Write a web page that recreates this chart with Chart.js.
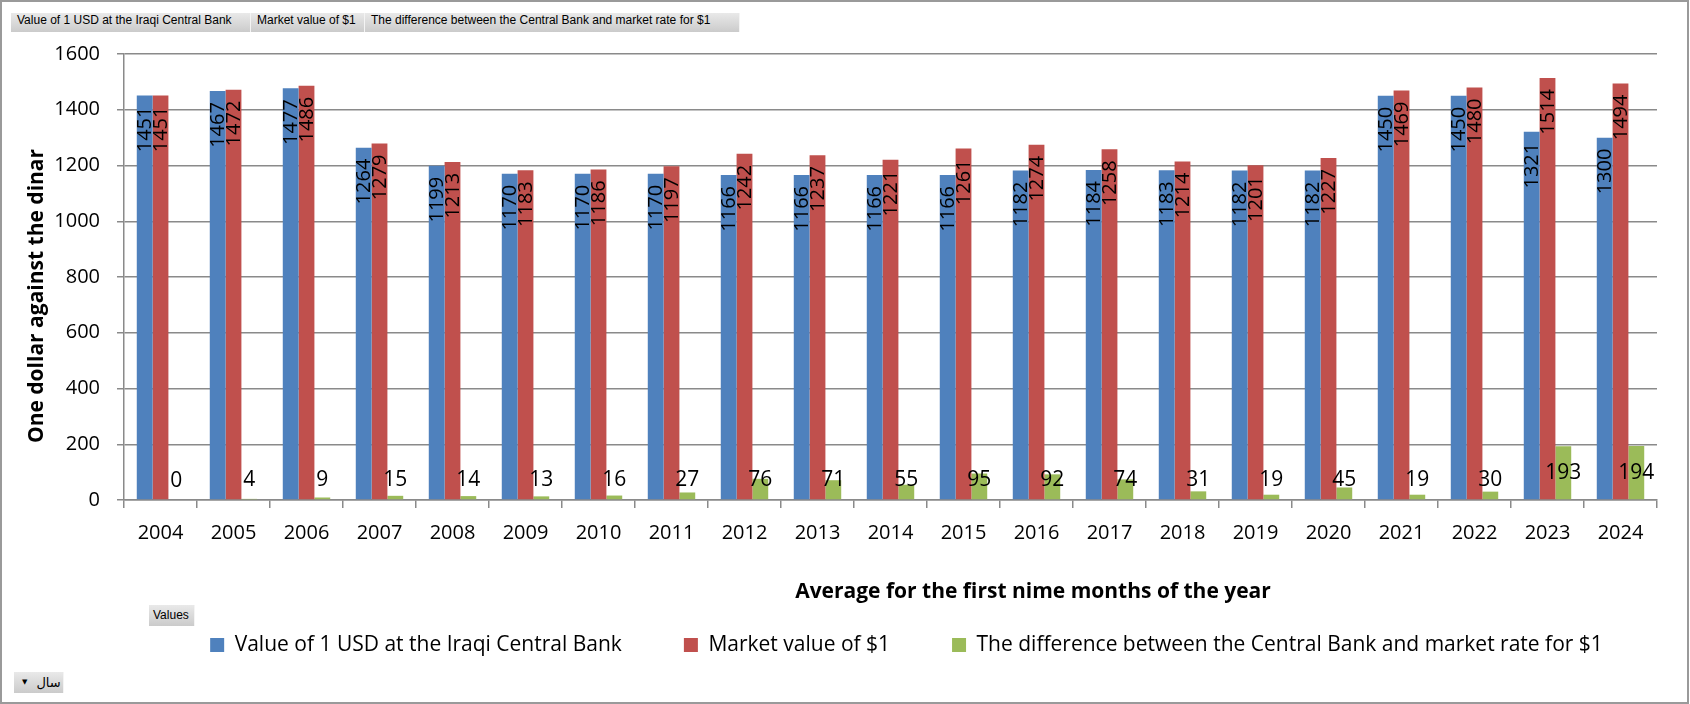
<!DOCTYPE html>
<html>
<head>
<meta charset="utf-8">
<title>One dollar against the dinar</title>
<script src="https://cdn.jsdelivr.net/npm/chart.js@4.4.1/dist/chart.umd.min.js"></script>
<style>
    html, body { margin: 0; padding: 0; background: #fff; }
    #wrap { position: relative; width: 1690px; height: 704px; overflow: hidden; }
    #frame { position: absolute; left: 0; top: 0; width: 1689px; height: 704px; box-sizing: border-box; border: 2px solid #9a9a9a; pointer-events: none; }
    #chart { position: absolute; left: 0; top: 0; }
    .btn {
        position: absolute; box-sizing: border-box; height: 19px; line-height: 19px;
        background: linear-gradient(#e9e9e9, #cbcbcb);
        font: 12px "Liberation Sans", Arial, sans-serif; color: #000;
        padding-left: 6px; white-space: nowrap;
        border-right: 1px solid #f4f4f4;
    }
    #values { left: 149px; top: 605px; width: 46px; height: 21px; line-height: 21px; padding-left: 4px; }
    #year { left: 14px; top: 672px; width: 50px; height: 21px; line-height: 21px; padding-left: 8px; display: flex; align-items: center; gap: 9px; font-family: "DejaVu Sans", sans-serif; font-size: 13px; }
    #year .arrow { font-size: 7px; }
</style>
</head>
<body>
<div id="wrap">
    <canvas id="chart" width="1690" height="704"></canvas>
    <div class="btn" style="left:11px; top:13px; width:240px;">Value of 1 USD at the Iraqi Central Bank</div>
    <div class="btn" style="left:251px; top:13px; width:114px;">Market value of $1</div>
    <div class="btn" style="left:365px; top:13px; width:375px;">The difference between the Central Bank and market rate for $1</div>
    <div class="btn" id="values">Values</div>
    <div class="btn" id="year"><span class="arrow">&#9660;</span><span>سال</span></div>
    <div id="frame"></div>
</div>
<script>
// Data
const years = ['2004', '2005', '2006', '2007', '2008', '2009', '2010', '2011', '2012', '2013', '2014',
    '2015', '2016', '2017', '2018', '2019', '2020', '2021', '2022', '2023', '2024'];
const seriesNames = [
    'Value of 1 USD at the Iraqi Central Bank',
    'Market value of $1',
    'The difference between the Central Bank and market rate for $1'
];
const centralBank = [1451, 1467, 1477, 1264, 1199, 1170, 1170, 1170, 1166, 1166, 1166,
    1166, 1182, 1184, 1183, 1182, 1182, 1450, 1450, 1321, 1300];
const marketRate = [1451, 1472, 1486, 1279, 1213, 1183, 1186, 1197, 1242, 1237, 1221,
    1261, 1274, 1258, 1214, 1201, 1227, 1469, 1480, 1514, 1494];
const difference = [0, 4, 9, 15, 14, 13, 16, 27, 76, 71, 55,
    95, 92, 74, 31, 19, 45, 19, 30, 193, 194];
const yTicks = { min: 0, max: 1600, step: 200 };
const xTitle = 'Average for the first nime months of the year';
const yTitle = 'One dollar against the dinar';

Chart.defaults.font.family = '"Open Sans", "Noto Sans", sans-serif';
Chart.defaults.color = '#000';

// Etiquetas dos valores (verticais nas duas primeiras séries)
const dataLabels = {
    id: 'dataLabels',
    afterDatasetsDraw(chart) {
        const ctx = chart.ctx;
        ctx.save();
        ctx.fillStyle = '#000';
        ctx.textBaseline = 'middle';
        chart.data.datasets.forEach((ds, di) => {
            const meta = chart.getDatasetMeta(di);
            meta.data.forEach((bar, i) => {
                const v = ds.data[i];
                if (di < 2) {
                    ctx.font = '20px "Open Sans"';
                    ctx.save();
                    ctx.translate(bar.x + 1, bar.y + 11);
                    ctx.rotate(-Math.PI / 2);
                    ctx.textAlign = 'right';
                    ctx.fillText(String(v), 0, 0);
                    ctx.restore();
                } else {
                    ctx.font = '21px "Open Sans"';
                    ctx.textAlign = 'center';
                    const y = Math.min((bar.y + bar.base) / 2, bar.base - 19);
                    ctx.fillText(String(v), bar.x, y);
                }
            });
        });
        ctx.restore();
    }
};

// Títulos dos eixos
const axisTitles = {
    id: 'axisTitles',
    afterDraw(chart) {
        const ctx = chart.ctx;
        ctx.save();
        ctx.fillStyle = '#000';
        ctx.font = 'bold 21px "Open Sans"';
        ctx.textAlign = 'center';
        ctx.textBaseline = 'middle';
        ctx.fillText(xTitle, 1033, 592);
        ctx.translate(37, 296);
        ctx.rotate(-Math.PI / 2);
        ctx.fillText(yTitle, 0, 0);
        ctx.restore();
    }
};

// Legenda um pouco à direita, como no original
const legendShift = {
    id: 'legendShift',
    afterLayout(chart) {
        if (chart.legend) {
            chart.legend.left += 16;
            chart.legend.right += 16;
        }
    }
};

const gridColor = '#8a8a8a';

new Chart(document.getElementById('chart'), {
    type: 'bar',
    data: {
        labels: years,
        datasets: [
            { label: seriesNames[0], data: centralBank, backgroundColor: '#4F81BD' },
            { label: seriesNames[1], data: marketRate, backgroundColor: '#C0504D' },
            { label: seriesNames[2], data: difference, backgroundColor: '#9BBB59' }
        ]
    },
    options: {
        responsive: false,
        animation: false,
        devicePixelRatio: 1,
        datasets: {
            bar: { categoryPercentage: 0.65, barPercentage: 1.0 }
        },
        layout: {
            padding: { top: 54, right: 33, bottom: 38.5, left: 0 }
        },
        plugins: {
            legend: {
                position: 'bottom',
                fullSize: false,
                labels: {
                    boxWidth: 14,
                    boxHeight: 14,
                    padding: 62,
                    color: '#000',
                    font: { size: 21 }
                }
            },
            tooltip: { enabled: false }
        },
        scales: {
            x: {
                grid: { drawOnChartArea: false, drawTicks: true, tickLength: 8, color: gridColor, lineWidth: 1.5 },
                border: { color: gridColor, width: 1.5 },
                ticks: { font: { size: 20 }, color: '#000', padding: 13, autoSkip: false, maxRotation: 0 },
                afterFit: (scale) => { scale.height = 72.5; }
            },
            y: {
                min: yTicks.min,
                max: yTicks.max,
                grid: { color: gridColor, tickLength: 7, lineWidth: 1.5 },
                border: { color: gridColor, width: 1.5 },
                ticks: {
                    stepSize: yTicks.step,
                    font: { size: 20 },
                    color: '#000',
                    padding: 17,
                    callback: (value) => String(value)
                },
                afterFit: (scale) => { scale.width = 124; }
            }
        }
    },
    plugins: [dataLabels, axisTitles, legendShift]
});
</script>
</body>
</html>
